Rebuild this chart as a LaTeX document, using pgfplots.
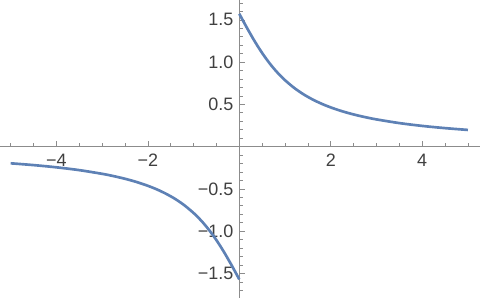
\documentclass[border=0pt]{standalone}
\usepackage{fontspec}
\setmainfont{Liberation Sans}
\usepackage{pgfplots}
\pgfplotsset{compat=1.18}
\definecolor{mblue}{RGB}{94,129,181}
\definecolor{axgray}{RGB}{140,140,140}
\definecolor{tickgray}{RGB}{64,64,64}
\begin{document}
\begin{tikzpicture}
\begin{axis}[
  scale only axis, width=360pt, height=223.5pt,
  axis lines=middle,
  xmin=-5.225, xmax=5.255, ymin=-1.79, ymax=1.73,
  xtick={-4,-2,2,4}, ytick={-1.5,-1,-0.5,0.5,1,1.5},
  xticklabels={−4,−2,2,4},
  yticklabels={−1.5,−1.0,−0.5,0.5,1.0,1.5},
  minor xtick={-5,-4.5,-3.5,-3,-2.5,-1.5,-1,-0.5,0.5,1,1.5,2.5,3,3.5,4.5,5},
  minor ytick={-1.7,-1.6,-1.4,-1.3,-1.2,-1.1,-0.9,-0.8,-0.7,-0.6,-0.4,-0.3,-0.2,-0.1,0.1,0.2,0.3,0.4,0.6,0.7,0.8,0.9,1.1,1.2,1.3,1.4,1.6,1.7},
  ticklabel style={font=\fontsize{13.5}{15}\selectfont, text=tickgray},
  xticklabel style={yshift=-2pt},
  yticklabel style={xshift=-1pt},
  axis line style={axgray, line width=0.6pt},
  every tick/.style={axgray, line width=0.5pt},
  major tick length=4.5pt, minor tick length=2.5pt,
  tick align=inside,
  axis line style={-},
  clip=false,
]
\addplot[mblue, line width=2pt, smooth] coordinates {
(0.0001,1.5707) (0.05,1.5208) (0.1,1.4711) (0.15,1.4219) (0.2,1.3734) (0.3,1.2793) (0.4,1.1903) (0.5,1.1071) (0.6,1.0304) (0.7,0.9601) (0.8,0.8961) (0.9,0.8380) (1.0,0.7854) (1.2,0.6947) (1.4,0.6202) (1.6,0.5586) (1.8,0.5071) (2.0,0.4636) (2.25,0.4182) (2.5,0.3805) (2.75,0.3489) (3.0,0.3218) (3.5,0.2783) (4.0,0.2450) (4.5,0.2187) (5.0,0.1974)
};
\addplot[mblue, line width=2pt, smooth] coordinates {
(-0.0001,-1.5707) (-0.05,-1.5208) (-0.1,-1.4711) (-0.15,-1.4219) (-0.2,-1.3734) (-0.3,-1.2793) (-0.4,-1.1903) (-0.5,-1.1071) (-0.6,-1.0304) (-0.7,-0.9601) (-0.8,-0.8961) (-0.9,-0.8380) (-1.0,-0.7854) (-1.2,-0.6947) (-1.4,-0.6202) (-1.6,-0.5586) (-1.8,-0.5071) (-2.0,-0.4636) (-2.25,-0.4182) (-2.5,-0.3805) (-2.75,-0.3489) (-3.0,-0.3218) (-3.5,-0.2783) (-4.0,-0.2450) (-4.5,-0.2187) (-5.0,-0.1974)
};
\end{axis}
\end{tikzpicture}
\end{document}
